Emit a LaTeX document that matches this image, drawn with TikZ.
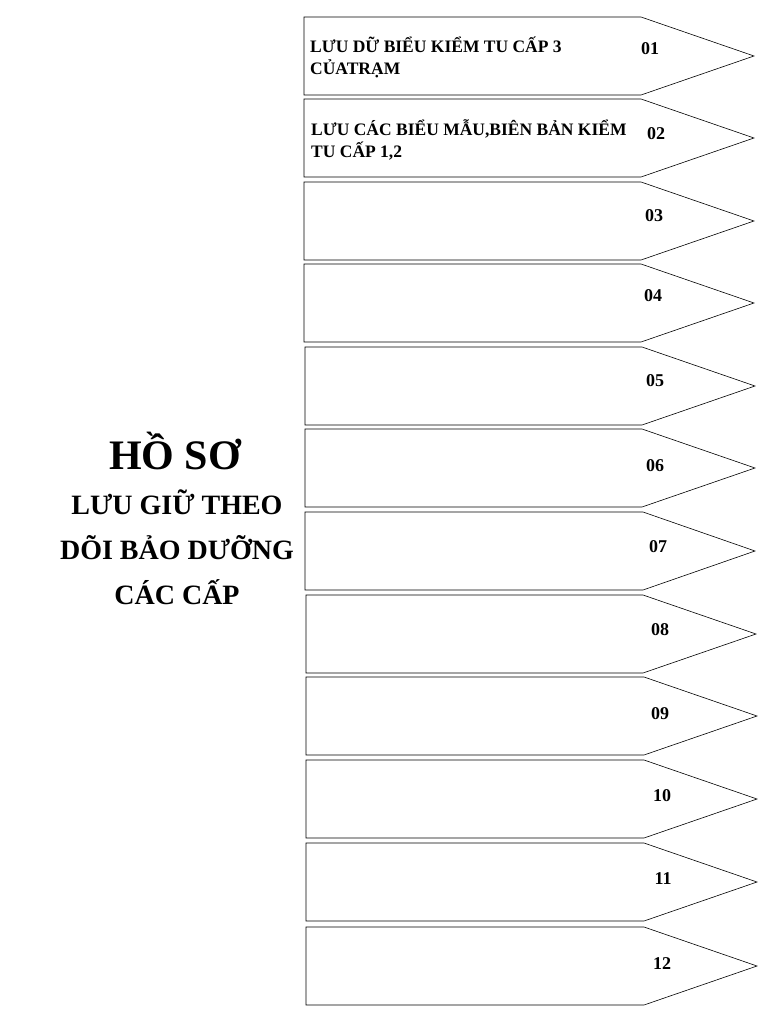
\documentclass[tikz,border=0pt]{standalone}
\usepackage{fontspec}
\setmainfont{Liberation Serif}
\begin{document}
\begin{tikzpicture}[x=1pt,y=-1pt,
  arr/.style={draw=black,line width=0.6pt,fill=white},
  num/.style={font=\bfseries\fontsize{18}{20}\selectfont,anchor=center},
  lbl/.style={font=\bfseries\fontsize{17.5}{22}\selectfont,anchor=north west,align=left,inner sep=0pt}]
\useasboundingbox (0,0) rectangle (768,1024);
\foreach \i/\t/\xl/\xr/\xt in {
 1/17/304/641/754, 2/99/304/641/754, 3/182/304/641/754, 4/264/304/641/754,
 5/347/305/642/755, 6/429/305/642/755, 7/512/305/643/755, 8/595/306/643/756,
 9/677/306/644/757, 10/760/306/644/757, 11/843/306/644/757, 12/927/306/644/757}{
  \draw[arr] (\xl,\t) -- (\xr,\t) -- (\xt,\t+39) -- (\xr,\t+78) -- (\xl,\t+78) -- cycle;
}
\node[num] (n1) at (650,49) {01};
\node[num] (n2) at (656,134) {02};
\node[num] (n3) at (654,216) {03};
\node[num] (n4) at (653,296) {04};
\node[num] (n5) at (655,381) {05};
\node[num] (n6) at (655,466) {06};
\node[num] (n7) at (658,547) {07};
\node[num] (n8) at (660,630) {08};
\node[num] (n9) at (660,714) {09};
\node[num] (n10) at (662,796) {10};
\node[num] (n11) at (663,879) {11};
\node[num] (n12) at (662,964) {12};
\node[lbl] (t1) at (310,37) {LƯU DỮ BIỂU KIỂM TU CẤP 3\\CỦATRẠM};
\node[lbl] (t2) at (311,119) {LƯU CÁC BIỂU MẪU,BIÊN BẢN KIỂM\\TU CẤP 1,2};
\node[font=\bfseries\fontsize{42}{48}\selectfont] (h) at (175,451) {HỒ SƠ};
\node[font=\bfseries\fontsize{28}{45}\selectfont,align=center] (s) at (177,547) {LƯU GIỮ THEO\\DÕI BẢO DƯỠNG\\CÁC CẤP};
\end{tikzpicture}
\end{document}
